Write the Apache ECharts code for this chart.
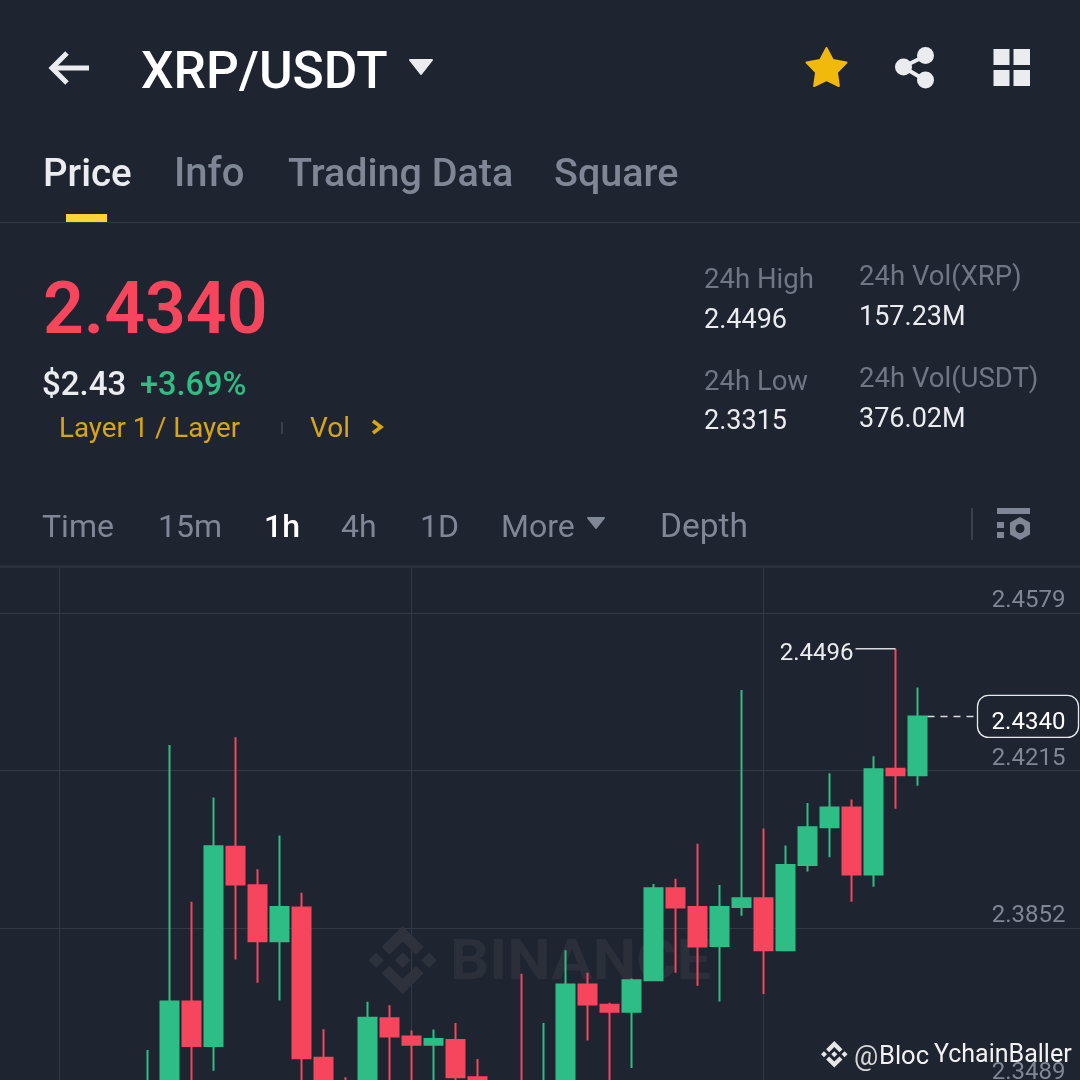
<!DOCTYPE html>
<html>
<head>
<meta charset="utf-8">
<style>
html, body { margin: 0; padding: 0; background: #1f2530; }
#chart { width: 1080px; height: 1080px; }
</style>
<script src="https://cdn.jsdelivr.net/npm/echarts@6/dist/echarts.min.js"></script>
</head>
<body>
<div id="chart"></div>
<script>
// hourly candles, left to right
// (the ones running past the bottom edge are estimates)
const opens = [2.3455, 2.3432, 2.3682, 2.3579, 2.4039, 2.3950, 2.3821, 2.3899, 2.3552, 2.3480, 2.3440, 2.3643,
  2.3601, 2.3582, 2.3593, 2.3507, 2.3475, 2.3470, 2.3440, 2.3450, 2.3721, 2.3674, 2.3658, 2.3731,
  2.3943, 2.3900, 2.3810, 2.3900, 2.3920, 2.3800, 2.3997, 2.4084, 2.4130, 2.3975, 2.4219, 2.4204];
const closes = [2.3489, 2.3682, 2.3579, 2.4040, 2.3952, 2.3821, 2.3900, 2.3551, 2.3466, 2.3450, 2.3644, 2.3601,
  2.3582, 2.3595, 2.3507, 2.3475, 2.3450, 2.3445, 2.3470, 2.3721, 2.3675, 2.3658, 2.3731, 2.3943,
  2.3899, 2.3809, 2.3900, 2.3920, 2.3800, 2.3997, 2.4084, 2.4130, 2.3975, 2.4218, 2.4204, 2.4340];
const lows = [2.3432, 2.3385, 2.3466, 2.3522, 2.3779, 2.3725, 2.3684, 2.3478, 2.3432, 2.3420, 2.3410, 2.3470,
  2.3460, 2.3455, 2.3465, 2.3440, 2.3430, 2.3420, 2.3410, 2.3430, 2.3592, 2.3470, 2.3528, 2.3729,
  2.3748, 2.3718, 2.3682, 2.3880, 2.3699, 2.3800, 2.3982, 2.4015, 2.3912, 2.3947, 2.4127, 2.4180];
const highs = [2.3570, 2.4274, 2.3912, 2.4153, 2.4292, 2.3987, 2.4065, 2.3933, 2.3618, 2.3507, 2.3681, 2.3673,
  2.3615, 2.3617, 2.3632, 2.3549, 2.3480, 2.3746, 2.3632, 2.3800, 2.3748, 2.3679, 2.3735, 2.3953,
  2.3965, 2.4046, 2.3951, 2.4401, 2.4081, 2.4042, 2.4140, 2.4209, 2.4148, 2.4248, 2.4496, 2.4407];

const leadingSlots = 7;
const trailingSlots = 8;
const priceTicks = [2.4579, 2.4215, 2.3852, 2.3489];
const axisMin = 2.3489;
const axisMax = 2.4685;

const bg = '#1f2530';
const white = '#eaecef';
const grey = '#7f8796';
const dimGrey = '#6f7785';
const red = '#f6465d';
const green = '#2ebd85';
const gold = '#f0b90b';
const lineColor = '#333945';
const fontName = 'Roboto';

const categories = [];
const candles = [];
for (let i = 0; i < leadingSlots; i++) {
  categories.push('s' + categories.length);
  candles.push(['-', '-', '-', '-']);
}
opens.forEach((o, i) => {
  categories.push('s' + categories.length);
  candles.push([o, closes[i], lows[i], highs[i]]);
});
for (let i = 0; i < trailingSlots; i++) {
  categories.push('s' + categories.length);
  candles.push(['-', '-', '-', '-']);
}

function txt(text, x, y, size, color, weight, align) {
  return {
    type: 'text', x: x, y: y, z: 20,
    style: {
      text: text, fill: color,
      font: (weight || 400) + ' ' + size + 'px ' + fontName,
      textAlign: align || 'left', textVerticalAlign: 'middle'
    }
  };
}
function rect(x, y, w, h, color, r) {
  return { type: 'rect', z: 20, shape: { x: x, y: y, width: w, height: h, r: r || 0 }, style: { fill: color } };
}
function poly(points, color) {
  return { type: 'polygon', z: 20, shape: { points: points }, style: { fill: color, stroke: color, lineWidth: 2, lineJoin: 'round' } };
}
function seg(x1, y1, x2, y2, color, width, dash) {
  return {
    type: 'line', z: 20, shape: { x1: x1, y1: y1, x2: x2, y2: y2 },
    style: { stroke: color, lineWidth: width, lineDash: dash || null }
  };
}
function dot(cx, cy, r, color) {
  return { type: 'circle', z: 20, shape: { cx: cx, cy: cy, r: r }, style: { fill: color } };
}
function starPoints(cx, cy, R, r) {
  const pts = [];
  for (let i = 0; i < 10; i++) {
    const a = -Math.PI / 2 + i * Math.PI / 5;
    const d = i % 2 ? r : R;
    pts.push([cx + d * Math.cos(a), cy + d * Math.sin(a)]);
  }
  return pts;
}
const logoShapes = [
  [[38.73, 53.2], [63.32, 28.62], [87.92, 53.22], [102.22, 38.91], [63.32, 0], [24.42, 38.9]],
  [[0, 63.31], [14.3, 49], [28.61, 63.31], [14.3, 77.61]],
  [[38.73, 73.41], [63.32, 98], [87.92, 73.4], [102.23, 87.69], [63.32, 126.61], [24.42, 87.7]],
  [[98, 63.31], [112.3, 49], [126.61, 63.31], [112.3, 77.61]],
  [[77.83, 63.3], [63.32, 48.78], [48.81, 63.28], [63.32, 77.78]]
];
function binanceLogo(x, y, scale, color, z) {
  return logoShapes.map((pts) => ({
    type: 'polygon', x: x, y: y, scaleX: scale, scaleY: scale, z: z,
    shape: { points: pts }, style: { fill: color }
  }));
}

const header = [
  // top bar
  seg(52, 68, 89, 68, white, 5),
  { type: 'polyline', z: 20, shape: { points: [[67, 53], [52, 68], [67, 83]] }, style: { stroke: white, lineWidth: 5, fill: null } },
  txt('XRP/USDT', 141, 75, 51.5, '#ffffff', 500),
  poly([[410, 60], [432, 60], [421, 74]], white),
  poly(starPoints(826.5, 69, 21, 11), gold),
  seg(925, 56, 903, 67, white, 4), seg(903, 67, 925, 80, white, 4),
  dot(925.5, 55.5, 8.5, white), dot(903.5, 67, 8.5, white), dot(925.5, 80, 8.5, white),
  rect(993.5, 49, 16, 16, white), rect(1013.5, 49, 16.5, 16, white),
  rect(993.5, 70, 16, 16, white), rect(1013.5, 70, 16.5, 16, white),
  // tabs
  txt('Price', 43, 176, 38.5, white, 500),
  txt('Info', 174, 176, 40, grey, 500),
  txt('Trading Data', 288, 176, 39.5, grey, 500),
  txt('Square', 554, 176, 39.5, grey, 500),
  rect(66, 214, 41, 8, '#fcd535'),
  rect(0, 222, 1080, 1, lineColor),
  // price block
  txt('2.4340', 43, 315, 71.5, red, 600),
  txt('$2.43', 42, 387, 33, white, 500),
  txt('+3.69%', 140, 387, 32.5, green, 500),
  txt('Layer 1 / Layer', 59, 430, 27.7, '#d9a514'),
  rect(281, 422, 2, 12, '#3a404c'),
  txt('Vol', 310, 430, 28, '#d9a514'),
  { type: 'polyline', z: 20, shape: { points: [[373, 421], [381, 427], [373, 433]] }, style: { stroke: '#d9a514', lineWidth: 3.5, fill: null } },
  txt('24h High', 704, 281, 27.5, dimGrey),
  txt('2.4496', 704, 321, 27, white),
  txt('24h Low', 704, 383, 27.5, dimGrey),
  txt('2.3315', 704, 422, 27, white),
  txt('24h Vol(XRP)', 859, 278, 27.5, dimGrey),
  txt('157.23M', 859, 318, 27, white),
  txt('24h Vol(USDT)', 859, 380, 27.5, dimGrey),
  txt('376.02M', 859, 420, 27, white),
  // interval row
  txt('Time', 42, 529, 32, grey),
  txt('15m', 158, 529, 32, grey),
  txt('1h', 264, 529, 32, '#ffffff', 500),
  txt('4h', 341, 529, 32, grey),
  txt('1D', 420, 529, 32, grey),
  txt('More', 501, 529, 32, grey),
  poly([[588, 518], [604, 518], [596, 528]], grey),
  txt('Depth', 660, 529, 33.5, grey),
  rect(971, 508, 2, 32, '#3a404c'),
  rect(997, 508, 33, 6, grey),
  rect(997, 522, 7, 6, grey), rect(997, 532, 7, 6, grey),
  poly([[1020, 518], [1029, 523], [1029, 534], [1020, 539], [1011, 534], [1011, 523]], grey),
  dot(1020, 528.5, 4.5, bg),
  rect(0, 565, 1080, 3, '#2b313c'),
  // watermarks
  { type: 'text', x: 450, y: 965, scaleX: 1.1, z: 0, style: { text: 'BINANCE', fill: '#2a2f3a', font: '700 56px ' + fontName, textVerticalAlign: 'middle' } },
  txt('@', 854, 1058, 27, '#d8d8d8'),
  txt('Bloc', 879, 1058, 25.5, '#f2f2f2'),
  txt('YchainBaller', 934, 1056, 25, '#f2f2f2')
].concat(binanceLogo(368.5, 926, 0.54, '#2d323d', 0), binanceLogo(821, 1041, 0.21, '#e6e6e6', 20));

const chart = echarts.init(document.getElementById('chart'));
chart.setOption({
  animation: false,
  backgroundColor: bg,
  graphic: header,
  grid: { left: -6.5, width: 1100, top: 567, height: 518, outerBoundsMode: 'none' },
  xAxis: {
    type: 'category',
    data: categories,
    boundaryGap: false,
    axisLine: { show: false },
    axisTick: { show: false },
    axisLabel: { show: false },
    splitLine: {
      show: true,
      interval: (i) => (i - 3) % 16 === 0,
      lineStyle: { color: lineColor, width: 1 }
    }
  },
  yAxis: {
    type: 'value',
    position: 'right',
    min: axisMin,
    max: axisMax,
    axisLine: { show: false },
    axisTick: { show: false, customValues: priceTicks },
    axisLabel: {
      inside: true,
      customValues: priceTicks,
      formatter: (v) => v.toFixed(4),
      margin: 28,
      verticalAlign: 'bottom',
      lineHeight: 24,
      color: grey,
      fontFamily: fontName,
      fontSize: 24
    },
    splitLine: { show: true, lineStyle: { color: lineColor, width: 1 } }
  },
  series: [{
    type: 'candlestick',
    data: candles,
    barWidth: 18,
    itemStyle: { color: green, color0: red, borderColor: green, borderColor0: red, borderWidth: 2 }
  }]
});

// leader and last price tag follow the y axis
const highIndex = highs.indexOf(Math.max.apply(null, highs));
const highPoint = chart.convertToPixel({ seriesIndex: 0 }, [leadingSlots + highIndex, highs[highIndex]]);
const lastPoint = chart.convertToPixel({ seriesIndex: 0 }, [leadingSlots + closes.length - 1, closes[closes.length - 1]]);
const tagHeight = 42;
chart.setOption({
  graphic: header.concat([
    seg(highPoint[0] - 40, highPoint[1], highPoint[0], highPoint[1], '#d8dade', 1.5),
    txt(highs[highIndex].toFixed(4), highPoint[0] - 42, highPoint[1] + 5, 24, white, 400, 'right'),
    seg(lastPoint[0] + 10, lastPoint[1], 977, lastPoint[1], '#d8dade', 1.5, [7, 6]),
    {
      type: 'rect', z: 20,
      shape: { x: 977.5, y: lastPoint[1] - tagHeight / 2, width: 101, height: tagHeight, r: 11 },
      style: { fill: bg, stroke: '#e6e8ec', lineWidth: 1.3 }
    },
    txt(closes[closes.length - 1].toFixed(4), 1028.5, lastPoint[1] + 7, 24, '#ffffff', 400, 'center')
  ])
}, { replaceMerge: ['graphic'] });
</script>
</body>
</html>
